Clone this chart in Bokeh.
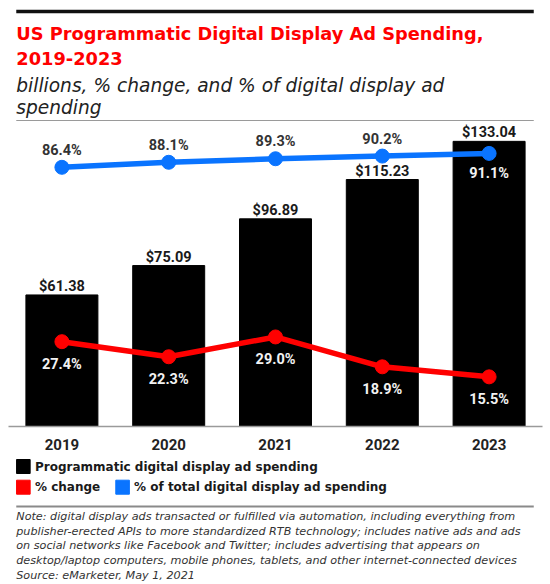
from bokeh.plotting import figure
from bokeh.models import ColumnDataSource, FactorRange, Range1d
from bokeh.layouts import column
from bokeh.core.properties import value
from bokeh.embed import file_html
from bokeh.resources import INLINE

# data
years = ["2019", "2020", "2021", "2022", "2023"]
spending = [61.38, 75.09, 96.89, 115.23, 133.04]      # billions
pct_change = [27.4, 22.3, 29.0, 18.9, 15.5]           # % change
pct_of_total = [86.4, 88.1, 89.3, 90.2, 91.1]         # % of total digital display

spend_labels = ["$%.2f" % v for v in spending]
change_labels = ["%.1f%%" % v for v in pct_change]
share_labels = ["%.1f%%" % v for v in pct_of_total]

title_lines = ["US Programmatic Digital Display Ad Spending,", "2019-2023"]
subtitle_lines = ["billions, % change, and % of digital display ad", "spending"]
legend_labels = ["Programmatic digital display ad spending", "% change",
                 "% of total digital display ad spending"]
note_lines = [
    "Note: digital display ads transacted or fulfilled via automation, including everything from",
    "publisher-erected APIs to more standardized RTB technology; includes native ads and ads",
    "on social networks like Facebook and Twitter; includes advertising that appears on",
    "desktop/laptop computers, mobile phones, tablets, and other internet-connected devices",
    "Source: eMarketer, May 1, 2021",
]

RED = "#ff0000"
BLUE = "#0a74ff"
W = 550


def blank(height):
    # pixel-space figure for the header and footer texts
    p = figure(width=W, height=height, x_range=Range1d(0, W), y_range=Range1d(height, 0),
               toolbar_location=None, output_backend="svg", min_border=0,
               x_axis_location=None, y_axis_location=None, outline_line_color=None)
    p.grid.visible = False
    return p


# header
head = blank(121)
head.segment(x0=[8], y0=[11], x1=[541], y1=[11], line_color="#111111", line_width=3.4)
head.text(x=[8, 8], y=[32.7, 58.3], text=title_lines, text_font=value("DejaVu Sans"),
          text_font_style="bold", text_font_size="17.8px", text_color=RED,
          text_baseline="alphabetic")
head.text(x=[8, 8], y=[85, 107.3], text=subtitle_lines, text_font=value("DejaVu Sans"),
          text_font_style="italic", text_font_size="18.6px", text_color="#222222",
          text_baseline="alphabetic")
head.segment(x0=[8], y0=[120], x1=[541], y1=[120], line_color="#9a9a9a", line_width=1.2)

# main chart
src = ColumnDataSource(data=dict(year=years, spending=spending, spend_label=spend_labels,
                                 change=pct_change, change_label=change_labels,
                                 share=pct_of_total, share_label=share_labels))

p = figure(width=W, height=331, x_range=FactorRange(factors=years), y_range=Range1d(0, 142.3),
           toolbar_location=None, output_backend="svg", y_axis_location=None,
           min_border_left=8, min_border_right=8, min_border_top=0, min_border_bottom=24,
           outline_line_color=None)
p.extra_y_ranges = {"pct": Range1d(-1.3, 101.9)}
p.grid.visible = False

p.vbar(x="year", top="spending", width=0.674, source=src, color="black")
p.text(x="year", y="spending", text="spend_label", source=src, text_align="center",
       text_baseline="middle", y_offset=-8.5, text_font=value("Roboto"),
       text_font_style="bold", text_font_size="14.5px", text_color="#1a1a1a")

# % change line
p.line(x="year", y="change", source=src, y_range_name="pct", line_color=RED, line_width=5.5)
p.scatter(x="year", y="change", source=src, y_range_name="pct", size=14, color=RED)
p.text(x="year", y="change", text="change_label", source=src, y_range_name="pct",
       text_align="center", text_baseline="middle", y_offset=22.5, text_font=value("Roboto"),
       text_font_style="bold", text_font_size="14.5px", text_color="#f2f2f2")

# % of total line
p.line(x="year", y="share", source=src, y_range_name="pct", line_color=BLUE, line_width=5.5)
p.scatter(x="year", y="share", source=src, y_range_name="pct", size=14, color=BLUE)
p.text(x=years[:4], y=pct_of_total[:4], text=share_labels[:4], y_range_name="pct",
       text_align="center", text_baseline="middle", y_offset=-17, text_font=value("Roboto"),
       text_font_style="bold", text_font_size="14.5px", text_color="#333333")
p.text(x=years[4:], y=pct_of_total[4:], text=share_labels[4:], y_range_name="pct",
       text_align="center", text_baseline="middle", y_offset=20.5, text_font=value("Roboto"),
       text_font_style="bold", text_font_size="14.5px", text_color="#f2f2f2")

p.xaxis.axis_line_color = "#9a9a9a"
p.xaxis.axis_line_width = 1.7
p.xaxis.major_tick_line_color = None
p.xaxis.minor_tick_line_color = None
p.xaxis.major_label_standoff = 6
p.xaxis.major_label_text_font = "Roboto"
p.xaxis.major_label_text_font_style = "bold"
p.xaxis.major_label_text_font_size = "15px"
p.xaxis.major_label_text_color = "#222222"

# footer: legend and notes
foot = blank(132)
foot.rect(x=[15.3, 15.3, 117.5], y=[14, 34.7, 34.7], width=14, height=14,
          color=["black", RED, BLUE])
foot.text(x=[27.3, 27.3, 129.3], y=[14, 34.7, 34.7], text=legend_labels,
          text_font=value("DejaVu Sans"), text_font_style="bold", text_font_size="12px",
          text_color="#1a1a1a", text_baseline="middle")
foot.segment(x0=[8], y0=[54], x1=[541], y1=[54], line_color="#8a8a8a", line_width=2)
foot.text(x=[8] * len(note_lines), y=[64, 78.5, 93.3, 108, 122.7], text=note_lines,
          text_font=value("DejaVu Sans"), text_font_style="italic", text_font_size="11.2px",
          text_color="#333333", text_baseline="middle")

layout = column(head, p, foot)
open("out.html", "w").write(file_html(layout, INLINE))
